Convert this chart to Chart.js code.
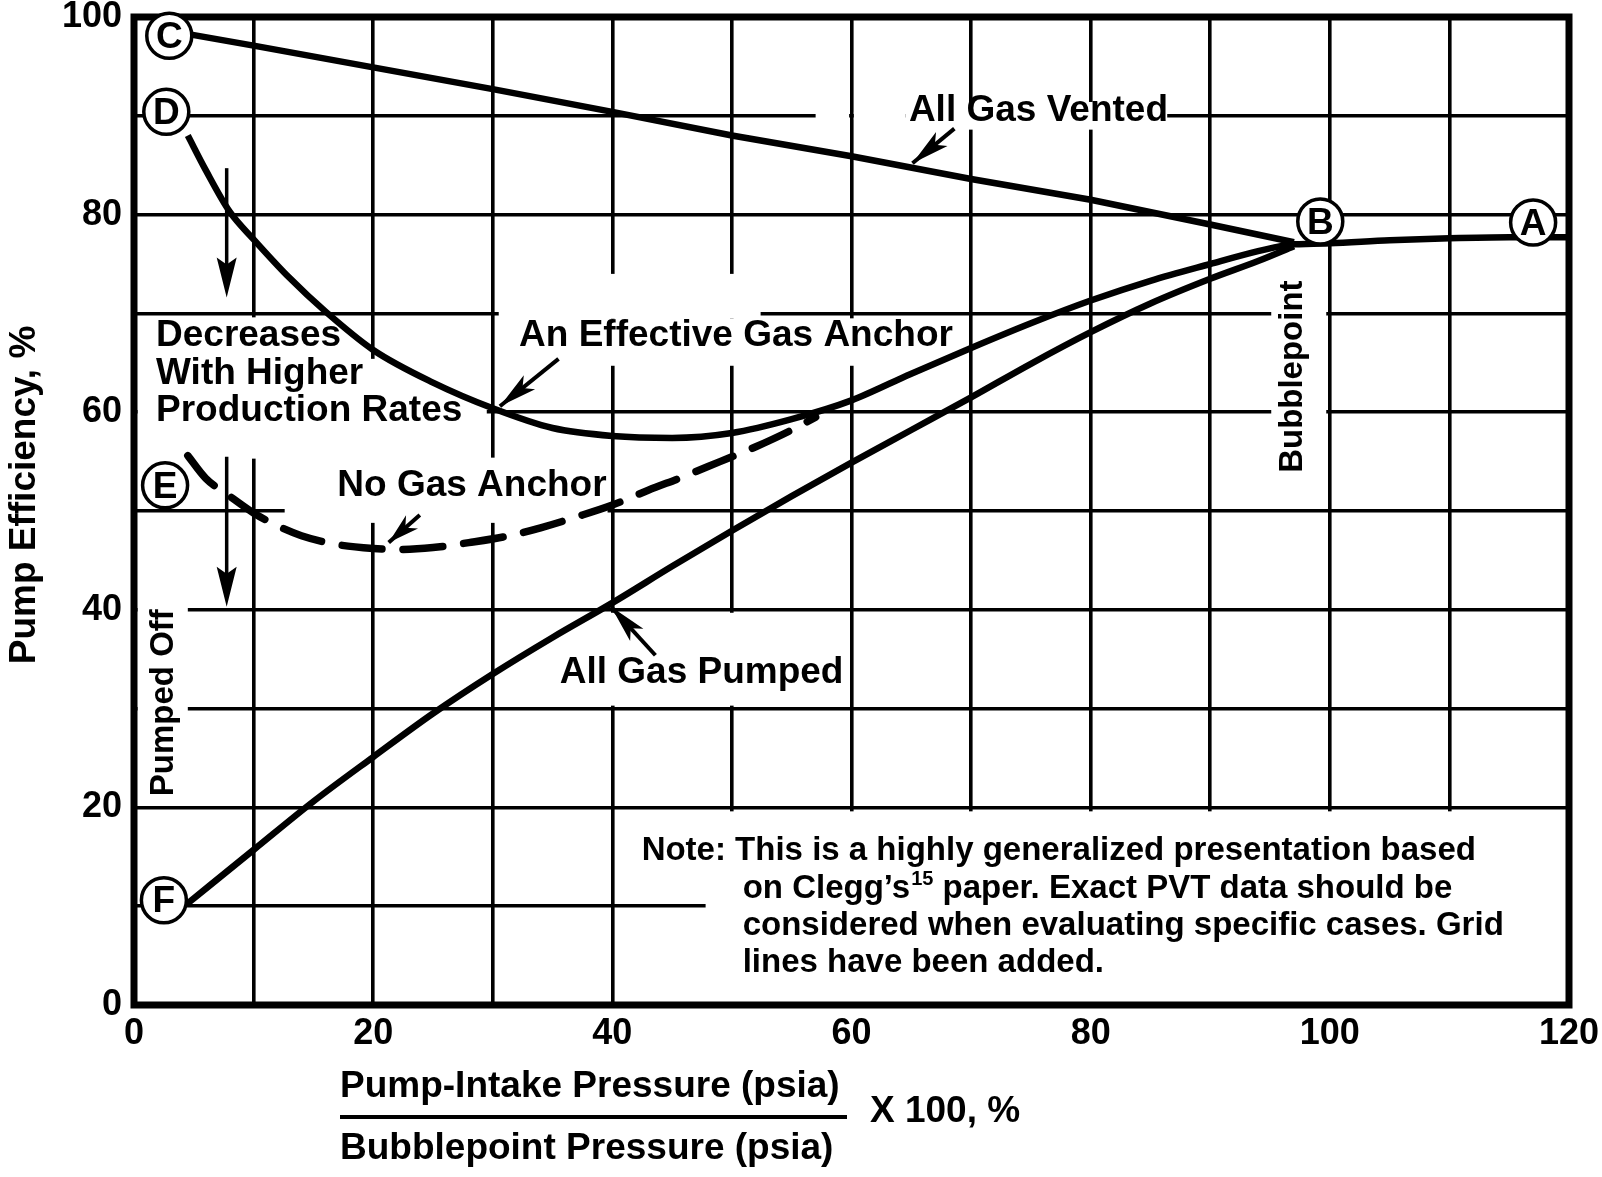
<!DOCTYPE html>
<html><head><meta charset="utf-8">
<script src="https://cdn.jsdelivr.net/npm/chart.js@4.4.0/dist/chart.umd.min.js"></script>
<style>html,body{margin:0;padding:0;background:#fff;}canvas{display:block;}</style>
</head><body>
<canvas id="c" width="1602" height="1177"></canvas>
<script>
// ---- data ----
const ventedX = [3, 10, 20, 30, 40, 50, 60, 70, 80, 90, 97];
const ventedY = [98.6, 97.1, 94.9, 92.7, 90.4, 88.0, 85.9, 83.6, 81.5, 79.0, 77.2];
const aboveBubbleX = [97, 100, 105, 110, 115, 120];
const aboveBubbleY = [77.0, 77.1, 77.4, 77.6, 77.7, 77.7];
const anchorX = [4.5, 6, 8, 10, 13, 16, 20, 25, 30, 35, 40, 45, 50, 55, 60, 65, 70, 75, 80, 85, 90, 94, 97];
const anchorY = [88.0, 84.5, 80.3, 77.5, 73.6, 70.2, 66.3, 63.0, 60.4, 58.4, 57.6, 57.4, 57.9, 59.3, 61.2, 63.9, 66.5, 69.0, 71.3, 73.3, 75.0, 76.3, 77.1];
const noAnchorX = [4.5, 6, 8, 10, 12, 14, 17, 20, 22, 25, 28, 31, 34, 37, 40, 43, 46, 49, 52, 55, 57];
const noAnchorY = [55.6, 53.3, 51.5, 49.8, 48.5, 47.5, 46.6, 46.2, 46.1, 46.3, 46.8, 47.4, 48.3, 49.4, 50.6, 52.1, 53.5, 55.0, 56.5, 58.2, 59.5];
const pumpedX = [4.4, 10, 15, 20, 25, 30, 35, 40, 45, 50, 55, 60, 65, 70, 75, 80, 85, 90, 94, 97];
const pumpedY = [10.2, 15.7, 20.6, 25.1, 29.5, 33.5, 37.2, 40.7, 44.4, 48.0, 51.5, 54.9, 58.2, 61.5, 64.9, 68.1, 71.0, 73.5, 75.3, 76.8];
const xTickLabels = [0, 20, 40, 60, 80, 100, 120];
const yTickLabels = [0, 20, 40, 60, 80, 100];
const pointLetters = ['C', 'D', 'E', 'F', 'B', 'A'];
const pointLetterX = [2.95, 2.7, 2.6, 2.5, 99.2, 117.0];
const pointLetterY = [98.1, 90.4, 52.6, 10.6, 79.3, 79.2];

const zip = (xs, ys) => xs.map((x, i) => ({x, y: ys[i]}));
const FONT = '"Liberation Sans", Arial, Helvetica, sans-serif';

// annotation layout (data units)
const masks = [
  [47.8, 120, 0, 19.6], [41.5, 47.8, 11.3, 19.6],
  [0.3, 4.5, 20.4, 40.5],
  [0.3, 16.9, 64.6, 69.6], [0.3, 20.3, 61.0, 65.4], [0.3, 29.5, 55.3, 61.2],
  [12.6, 39.6, 48.8, 55.4],
  [30.5, 68.9, 64.7, 69.5], [30.5, 52.4, 69.5, 74.0],
  [64.5, 86.4, 88.6, 91.4], [57, 59.8, 89.6, 90.4], [60.2, 64.5, 89.6, 90.4],
  [30.6, 59.6, 30.3, 39.7],
  [95.1, 99.7, 53.5, 73.6]
];
const labels = [
  {t: 'All Gas Vented', x: 64.8, y: 90.6},
  {t: 'An Effective Gas Anchor', x: 32.2, y: 67.8},
  {t: 'Decreases', x: 1.84, y: 67.8},
  {t: 'With Higher', x: 1.84, y: 64.0},
  {t: 'Production Rates', x: 1.84, y: 60.2},
  {t: 'No Gas Anchor', x: 17.0, y: 52.7},
  {t: 'All Gas Pumped', x: 35.6, y: 33.7}
];
const pointers = [ // back -> tip
  [68.6, 88.7, 65.1, 85.2],
  [35.5, 65.4, 30.6, 60.6],
  [23.9, 49.6, 21.3, 46.8],
  [43.6, 35.4, 39.9, 40.3]
];
const downArrows = [[7.75, 84.7, 71.6], [7.75, 55.5, 40.3]];

const overlay = {
  id: 'overlay',
  beforeDatasetsDraw(chart) {
    const {ctx, chartArea: a, scales: {x, y}} = chart;
    ctx.save();
    ctx.fillStyle = '#fff';
    masks.forEach(m => {
      const x1 = x.getPixelForValue(m[0]), x2 = x.getPixelForValue(m[1]);
      const y1 = y.getPixelForValue(m[3]), y2 = y.getPixelForValue(m[2]);
      ctx.fillRect(x1, y1, x2 - x1, y2 - y1);
    });
    ctx.strokeStyle = '#000';
    ctx.lineWidth = 7;
    ctx.beginPath();
    ctx.moveTo(a.left, a.top); ctx.lineTo(a.right, a.top);
    ctx.lineTo(a.right, a.bottom); ctx.lineTo(a.left, a.bottom); ctx.closePath();
    ctx.stroke();
    ctx.restore();
  },
  afterDatasetsDraw(chart) {
    const {ctx, scales: {x, y}} = chart;
    const X = v => x.getPixelForValue(v), Y = v => y.getPixelForValue(v);
    ctx.save();
    ctx.fillStyle = '#000'; ctx.strokeStyle = '#000';
    // pointer arrows
    pointers.forEach(p => {
      const bx = X(p[0]), by = Y(p[1]), tx = X(p[2]), ty = Y(p[3]);
      const dx = tx - bx, dy = ty - by, len = Math.hypot(dx, dy);
      const ux = dx / len, uy = dy / len, px = -uy, py = ux;
      const L = Math.min(38, len * 0.75), w = 9;
      ctx.lineWidth = 4;
      ctx.beginPath(); ctx.moveTo(bx, by); ctx.lineTo(tx, ty); ctx.stroke();
      const hx = tx - ux * L, hy = ty - uy * L;
      ctx.beginPath();
      ctx.moveTo(tx, ty);
      ctx.lineTo(hx + px * w, hy + py * w);
      ctx.lineTo(hx + ux * 9, hy + uy * 9);
      ctx.lineTo(hx - px * w, hy - py * w);
      ctx.closePath(); ctx.fill();
    });
    // vertical down arrows
    downArrows.forEach(d => {
      const ax = X(d[0]), y1 = Y(d[1]), y2 = Y(d[2]);
      ctx.lineWidth = 3.5;
      ctx.beginPath(); ctx.moveTo(ax, y1); ctx.lineTo(ax, y2 - 20); ctx.stroke();
      ctx.beginPath();
      ctx.moveTo(ax, y2); ctx.lineTo(ax - 10, y2 - 40); ctx.lineTo(ax, y2 - 33); ctx.lineTo(ax + 10, y2 - 40);
      ctx.closePath(); ctx.fill();
    });
    // circled letters
    pointLetters.forEach((t, i) => {
      const cx = X(pointLetterX[i]), cy = Y(pointLetterY[i]);
      ctx.beginPath(); ctx.arc(cx, cy, 22.5, 0, Math.PI * 2);
      ctx.fillStyle = '#fff'; ctx.fill();
      ctx.lineWidth = 3.5; ctx.stroke();
      ctx.fillStyle = '#000';
      ctx.font = 'bold 37px ' + FONT;
      ctx.textAlign = 'center'; ctx.textBaseline = 'middle';
      ctx.fillText(t, cx, cy + 2);
    });
    // labels
    ctx.textAlign = 'left'; ctx.textBaseline = 'middle';
    ctx.font = 'bold 37px ' + FONT;
    labels.forEach(l => ctx.fillText(l.t, X(l.x), Y(l.y) + 1));
    // rotated labels
    ctx.font = 'bold 33px ' + FONT;
    ctx.textAlign = 'center';
    [['Bubblepoint', 96.9, 63.6], ['Pumped Off', 2.47, 30.6]].forEach(r => {
      ctx.save(); ctx.translate(X(r[1]), Y(r[2])); ctx.rotate(-Math.PI / 2);
      ctx.fillText(r[0], 0, 0); ctx.restore();
    });
    // note
    ctx.textAlign = 'left'; ctx.textBaseline = 'alphabetic';
    ctx.font = 'bold 33px ' + FONT;
    ctx.fillText('Note: This is a highly generalized presentation based', X(42.45), Y(15.9) + 12);
    let nx = X(50.9); const ny = Y(12.0) + 12;
    ctx.fillText('on Clegg\u2019s', nx, ny);
    nx += ctx.measureText('on Clegg\u2019s').width + 1;
    ctx.font = 'bold 20px ' + FONT;
    ctx.fillText('15', nx, ny - 13);
    nx += ctx.measureText('15').width;
    ctx.font = 'bold 33px ' + FONT;
    ctx.fillText(' paper. Exact PVT data should be', nx, ny);
    ctx.fillText('considered when evaluating specific cases. Grid', X(50.9), Y(8.3) + 12);
    ctx.fillText('lines have been added.', X(50.9), Y(4.55) + 12);
    // y-axis title
    ctx.save(); ctx.translate(25, 495); ctx.rotate(-Math.PI / 2);
    ctx.textAlign = 'center'; ctx.textBaseline = 'middle';
    ctx.font = 'bold 37px ' + FONT;
    ctx.fillText('Pump Efficiency, %', 0, 0); ctx.restore();
    // x-axis title (fraction)
    ctx.font = 'bold 37px ' + FONT;
    ctx.textAlign = 'left'; ctx.textBaseline = 'middle';
    ctx.fillText('Pump-Intake Pressure (psia)', 340, 1087);
    ctx.fillText('Bubblepoint Pressure (psia)', 340, 1149);
    ctx.fillText('X 100, %', 870, 1112);
    ctx.lineWidth = 4;
    ctx.beginPath(); ctx.moveTo(340, 1117); ctx.lineTo(847, 1117); ctx.stroke();
    ctx.restore();
  }
};

const tickFont = {family: FONT, size: 36, weight: 'bold'};
new Chart(document.getElementById('c'), {
  type: 'line',
  data: {
    datasets: [
      {data: zip(ventedX, ventedY), borderColor: '#000', borderWidth: 6.5, tension: 0},
      {data: zip(aboveBubbleX, aboveBubbleY), borderColor: '#000', borderWidth: 6.5, cubicInterpolationMode: 'monotone'},
      {data: zip(anchorX, anchorY), borderColor: '#000', borderWidth: 6.5, cubicInterpolationMode: 'monotone'},
      {data: zip(noAnchorX, noAnchorY), borderColor: '#000', borderWidth: 7.5, borderDash: [40, 21], borderCapStyle: 'round', cubicInterpolationMode: 'monotone'},
      {data: zip(pumpedX, pumpedY), borderColor: '#000', borderWidth: 6.5, cubicInterpolationMode: 'monotone'}
    ]
  },
  options: {
    responsive: false, animation: false, devicePixelRatio: 1,
    layout: {padding: {left: 0, top: 17, right: 33, bottom: 0}},
    plugins: {legend: {display: false}, tooltip: {enabled: false}},
    elements: {point: {radius: 0}},
    scales: {
      x: {
        type: 'linear', min: 0, max: 120,
        ticks: {stepSize: 10, autoSkip: false, maxRotation: 0, padding: 7, color: '#000', font: tickFont,
          callback: v => xTickLabels.includes(v) ? String(v) : ''},
        grid: {color: '#000', lineWidth: 3.6, drawTicks: false},
        border: {display: false},
        afterFit(s) { s.height = 172; s.paddingLeft = 0; s.paddingRight = 0; }
      },
      y: {
        type: 'linear', min: 0, max: 100,
        ticks: {stepSize: 10, autoSkip: false, padding: 12, color: '#000', font: tickFont,
          callback: v => yTickLabels.includes(v) ? String(v) : ''},
        grid: {color: '#000', lineWidth: 3.6, drawTicks: false},
        border: {display: false},
        afterFit(s) { s.width = 134; s.paddingTop = 0; s.paddingBottom = 0; }
      }
    }
  },
  plugins: [overlay]
});
</script>
</body></html>
